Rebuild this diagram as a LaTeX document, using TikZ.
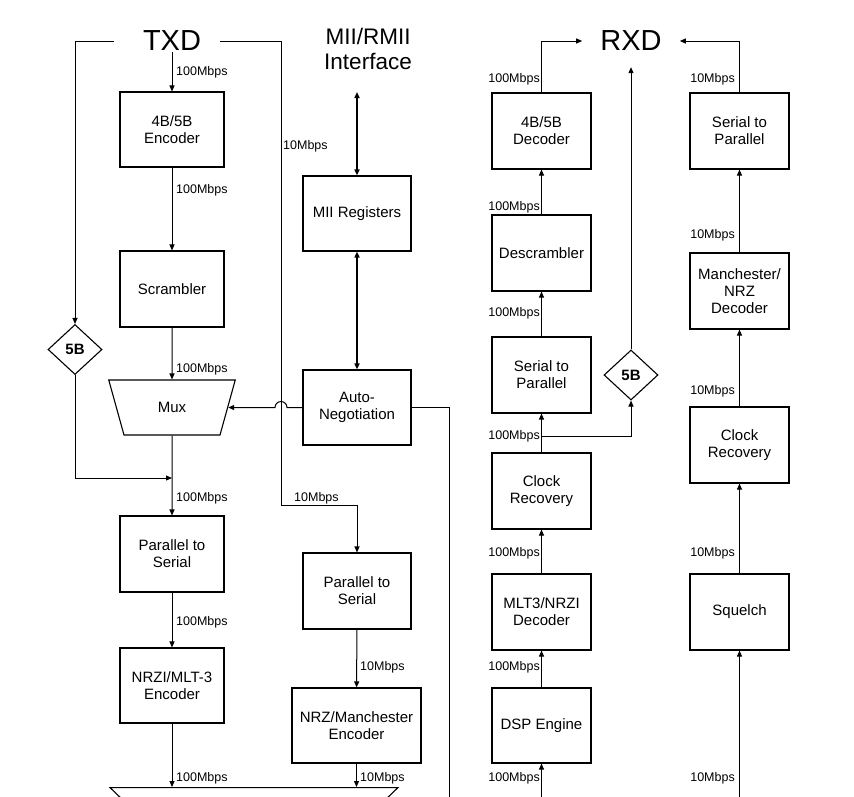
\documentclass[tikz,border=0pt]{standalone}
\usepackage{fontspec}
\setmainfont{Liberation Sans}
\usetikzlibrary{arrows.meta,shapes.geometric,calc}

\tikzset{
  blk/.style={draw, line width=1.1pt, align=center, minimum width=104pt, minimum height=75pt, inner sep=1pt, font=\fontsize{15}{17}\selectfont},
  muxbox/.style={draw, line width=1.1pt, trapezium, shape border rotate=180, trapezium left angle=72, trapezium right angle=72, trapezium stretches=true, minimum height=55pt, font=\fontsize{15}{17}\selectfont},
  dia/.style={draw, line width=1.1pt, diamond, aspect=1.08, minimum width=54pt, minimum height=50pt, inner sep=0pt, font=\bfseries\fontsize{15}{17}\selectfont},
  arr/.style={line width=1pt, -{Triangle[length=6pt,width=5pt]}},
  dbl/.style={line width=1.6pt, {Triangle[length=6pt,width=5pt]}-{Triangle[length=6pt,width=5pt]}},
  wire/.style={line width=1pt},
  rate/.style={font=\fontsize{12.5}{14}\selectfont, inner sep=0pt},
  big/.style={font=\fontsize{29}{32}\selectfont},
}

\begin{document}
\begin{tikzpicture}[x=1pt,y=-1pt]
    \useasboundingbox (0,0) rectangle (854,796);

    % Transmit side
    \node[big, inner xsep=24pt, inner ysep=1pt] (txd) at (172,41) {TXD};
    \node[blk] (enc) at (172,129.5) {4B/5B\\Encoder};
    \node[blk, minimum height=76pt] (scr) at (172,289) {Scrambler};
    \node[muxbox, minimum width=127pt] (mux) at (172,407.5) {Mux};
    \node[blk, minimum height=76pt] (pts) at (172,554) {Parallel to\\Serial};
    \node[blk] (mlt) at (172,685.5) {NRZI/MLT-3\\Encoder};
    \node[dia] (fb) at (75,349.5) {5B};
    \node[muxbox, minimum width=288pt, anchor=north] (out) at (254,787) {};

    % 10Mbps transmit path and management
    \node[align=center, font=\fontsize{22.5}{25}\selectfont] (mii) at (368,49) {MII/RMII\\Interface};
    \node[blk, minimum width=108pt] (reg) at (357,213.5) {MII Registers};
    \node[blk, minimum width=108pt] (an) at (357,407.5) {Auto-\\Negotiation};
    \node[blk, minimum width=108pt, minimum height=76pt] (ptsm) at (357,591) {Parallel to\\Serial};
    \node[blk, minimum width=129pt] (man) at (356.5,725.5) {NRZ/Manchester\\Encoder};

    % Receive side, 100Mbps
    \node[big, inner xsep=18pt, inner ysep=16pt] (rxd) at (631,41) {RXD};
    \node[blk, minimum width=99pt, minimum height=76pt] (dec) at (541.5,131) {4B/5B\\Decoder};
    \node[blk, minimum width=99pt, minimum height=76pt] (dsc) at (541.5,253) {Descrambler};
    \node[blk, minimum width=99pt, minimum height=76pt] (stp) at (541.5,375) {Serial to\\Parallel};
    \node[blk, minimum width=99pt, minimum height=76pt] (clk) at (541.5,491) {Clock\\Recovery};
    \node[blk, minimum width=99pt, minimum height=76pt] (nrzi) at (541.5,612) {MLT3/NRZI\\Decoder};
    \node[blk, minimum width=99pt] (dsp) at (541.5,725.5) {DSP Engine};
    \node[dia] (fbr) at (631,375) {5B};

    % Receive side, 10Mbps
    \node[blk, minimum width=99pt, minimum height=76pt] (stpr) at (739.5,131) {Serial to\\Parallel};
    \node[blk, minimum width=99pt, minimum height=76pt] (mdec) at (739.5,291) {Manchester/\\NRZ\\Decoder};
    \node[blk, minimum width=99pt, minimum height=76pt] (clkr) at (739.5,445) {Clock\\Recovery};
    \node[blk, minimum width=99pt, minimum height=76pt] (sq) at (739.5,612) {Squelch};

    % Free ends
    \coordinate (miitop) at (357,92);
    \coordinate (j1) at (172,478);
    \coordinate (j2) at (281,505);
    \coordinate (j3) at (541.5,436);
    \coordinate (anout) at (449,800);
    \coordinate (dspin) at (541.5,800);
    \coordinate (sqin) at (739.5,800);

    % Transmit connectors
    \draw[arr] (txd) -- (enc);
    \draw[arr] (enc) -- (scr);
    \draw[arr] (scr) -- (mux);
    \draw[arr] (mux) -- (pts);
    \draw[arr] (pts) -- (mlt);
    \draw[arr] (mlt) -- (mlt |- out.north);
    \draw[arr] ([xshift=-5pt]txd.west) -| (fb.north);
    \draw[arr] (fb.south) |- (j1);
    \draw[arr] ([xshift=-5pt]txd.east) -| (j2) -| (ptsm.north);
    \draw[arr] (ptsm) -- (man);
    \draw[arr] (man) -- (man |- out.north);
    \draw[dbl] (reg.north) -- (miitop);
    \draw[dbl] (reg) -- (an);
    % hop over the 10Mbps line
    \draw[arr] (an.west) -- ($(an.west -| j2)+(6,0)$) arc[start angle=0, end angle=-180, radius=6] -- (mux);
    \draw[wire] (an.east) -| (anout);

    % Receive connectors
    \draw[arr] (dspin) -- (dsp);
    \draw[arr] (dsp) -- (nrzi);
    \draw[arr] (nrzi) -- (clk);
    \draw[arr] (clk) -- (stp);
    \draw[arr] (j3) -| (fbr.south);
    \draw[arr] (stp) -- (dsc);
    \draw[arr] (dsc) -- (dec);
    \draw[arr] (dec.north) |- (rxd.west);
    \draw[arr] (fbr.north) -- (rxd.south);
    \draw[arr] (sqin) -- (sq);
    \draw[arr] (sq) -- (clkr);
    \draw[arr] (clkr) -- (mdec);
    \draw[arr] (mdec) -- (stpr);
    \draw[arr] (stpr.north) |- (rxd.east);

    % Rate labels
    \foreach \y [count=\i] in {72,190,369,498,622,778}
        \node[rate, anchor=west] (ta\i) at (176,\y) {100Mbps};
    \node[rate, anchor=west] (tb1) at (283,146) {10Mbps};
    \node[rate, anchor=west] (tb2) at (294,498) {10Mbps};
    \node[rate, anchor=west] (tb3) at (360,667) {10Mbps};
    \node[rate, anchor=west] (tb4) at (360,778) {10Mbps};
    \foreach \y [count=\i] in {79,207,313,436,553,667,778}
        \node[rate, anchor=east] (ra\i) at (540,\y) {100Mbps};
    \foreach \y [count=\i] in {79,235,391,553,778}
        \node[rate, anchor=east] (rb\i) at (735,\y) {10Mbps};
\end{tikzpicture}
\end{document}
